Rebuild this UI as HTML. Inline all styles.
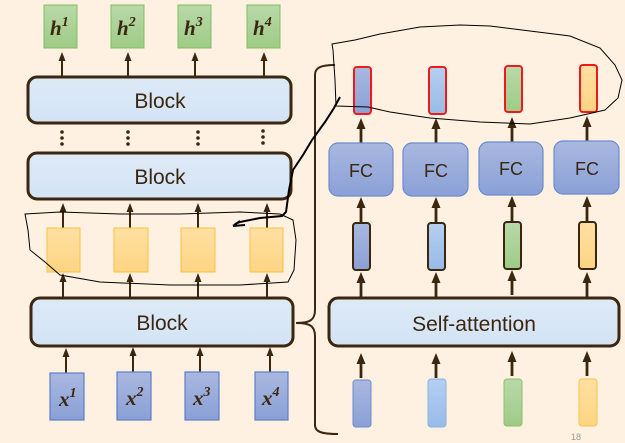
<!DOCTYPE html>
<html><head><meta charset="utf-8"><style>
html,body{margin:0;padding:0;background:#fef1e2;}
svg{display:block;}
text{font-family:"Liberation Sans",sans-serif;fill:#3b2610;}
.m{font-family:"Liberation Serif",serif;font-weight:bold;font-style:italic;}
</style></head><body>
<svg width="625" height="443" viewBox="0 0 625 443" xmlns="http://www.w3.org/2000/svg">
<defs>
<linearGradient id="blk" x1="0" y1="0" x2="0" y2="1"><stop offset="0" stop-color="#dde9f6"/><stop offset="1" stop-color="#d4e4f5"/></linearGradient>
<linearGradient id="grn" x1="0" y1="0" x2="0" y2="1"><stop offset="0" stop-color="#b9d9a9"/><stop offset="1" stop-color="#9ecb86"/></linearGradient>
<linearGradient id="yel" x1="0" y1="0" x2="0" y2="1"><stop offset="0" stop-color="#ffe0a3"/><stop offset="1" stop-color="#fdd482"/></linearGradient>
<linearGradient id="pur" x1="0" y1="0" x2="0" y2="1"><stop offset="0" stop-color="#a9b8e0"/><stop offset="1" stop-color="#8aa0d6"/></linearGradient>
<linearGradient id="lb" x1="0" y1="0" x2="0" y2="1"><stop offset="0" stop-color="#b5cff0"/><stop offset="1" stop-color="#97bbe8"/></linearGradient>
<g id="al"><path d="M0,0V-18" stroke="#3b2610" stroke-width="2"/><path d="M-3.5,-16 L0,-25 L3.5,-16 Z" fill="#3b2610"/></g>
<g id="ar"><path d="M0,0V-17" stroke="#3b2610" stroke-width="2.8"/><path d="M-4.5,-14 L0,-25 L4.5,-14 Z" fill="#3b2610"/></g>
</defs>
<!-- left arrows -->
<use href="#al" x="62" y="77"/><use href="#al" x="128" y="77"/><use href="#al" x="195" y="77"/><use href="#al" x="264" y="77"/>
<use href="#al" x="63" y="228"/><use href="#al" x="130" y="228"/><use href="#al" x="198" y="228"/><use href="#al" x="267" y="228"/>
<use href="#al" x="63" y="298"/><use href="#al" x="130" y="298"/><use href="#al" x="198" y="298"/><use href="#al" x="267" y="298"/>
<use href="#al" x="66" y="373"/><use href="#al" x="133" y="372"/><use href="#al" x="200" y="372"/><use href="#al" x="270" y="372"/>
<!-- right arrows -->
<use href="#ar" x="361" y="143"/><use href="#ar" x="436" y="143"/><use href="#ar" x="512" y="142"/><use href="#ar" x="587" y="141"/>
<use href="#ar" x="361" y="222"/><use href="#ar" x="436" y="222"/><use href="#ar" x="512" y="221"/><use href="#ar" x="587" y="221"/>
<use href="#ar" x="361" y="297"/><use href="#ar" x="436" y="297"/><use href="#ar" x="512" y="295"/><use href="#ar" x="587" y="297"/>
<use href="#ar" x="361" y="378"/><use href="#ar" x="436" y="378"/><use href="#ar" x="512" y="376"/><use href="#ar" x="587" y="376"/>
<!-- brace -->
<path d="M335,65 C320,65 315,68 315,75 V310 C315,320 310,323 296,323 C310,323 315,326 315,336 V425 C315,432 322,434 338,434" fill="none" stroke="#3b2610" stroke-width="2"/>
<!-- h boxes -->
<g fill="url(#grn)" stroke="#7fbf60" stroke-width="1">
<rect x="44" y="5" width="33" height="43"/><rect x="111" y="5" width="33" height="43"/><rect x="178" y="5" width="33" height="43"/><rect x="247" y="5" width="33" height="43"/>
</g>
<g font-size="21">
<text x="50" y="35" class="m">h<tspan font-size="14" dy="-9">1</tspan></text>
<text x="117" y="35" class="m">h<tspan font-size="14" dy="-9">2</tspan></text>
<text x="184" y="35" class="m">h<tspan font-size="14" dy="-9">3</tspan></text>
<text x="253" y="35" class="m">h<tspan font-size="14" dy="-9">4</tspan></text>
</g>
<!-- blocks -->
<g fill="url(#blk)" stroke="#3b2610" stroke-width="3">
<rect x="28" y="77" width="263" height="46" rx="9"/>
<rect x="28" y="153" width="263" height="46" rx="9"/>
<rect x="31" y="298" width="262" height="48" rx="9"/>
<rect x="329" y="298" width="290" height="48" rx="9"/>
</g>
<g font-size="21" text-anchor="middle">
<text x="160" y="108">Block</text><text x="160" y="184">Block</text><text x="162" y="330">Block</text>
<text x="474" y="331">Self-attention</text>
</g>
<!-- dots -->
<g fill="#3b2610">
<circle cx="62" cy="132" r="1.8"/><circle cx="62" cy="138" r="1.8"/><circle cx="62" cy="144" r="1.8"/>
<circle cx="128" cy="132" r="1.8"/><circle cx="128" cy="138" r="1.8"/><circle cx="128" cy="144" r="1.8"/>
<circle cx="198" cy="132" r="1.8"/><circle cx="198" cy="138" r="1.8"/><circle cx="198" cy="144" r="1.8"/>
<circle cx="263" cy="131" r="1.8"/><circle cx="263" cy="137" r="1.8"/><circle cx="263" cy="143" r="1.8"/>
</g>
<!-- yellow -->
<g fill="url(#yel)" stroke="#f7c343" stroke-width="1">
<rect x="47" y="228" width="33" height="44"/><rect x="114" y="228" width="34" height="44"/><rect x="181" y="228" width="34" height="44"/><rect x="250" y="228" width="33" height="44"/>
</g>
<!-- x boxes -->
<g fill="url(#pur)" stroke="#5b7fc8" stroke-width="1.2">
<rect x="50" y="373" width="34" height="47"/><rect x="117" y="372" width="34" height="48"/><rect x="185" y="372" width="34" height="48"/><rect x="255" y="372" width="33" height="48"/>
</g>
<g font-size="21">
<text x="59" y="406" class="m">x<tspan font-size="14" dy="-9">1</tspan></text>
<text x="126" y="405" class="m">x<tspan font-size="14" dy="-9">2</tspan></text>
<text x="193" y="405" class="m">x<tspan font-size="14" dy="-9">3</tspan></text>
<text x="262" y="405" class="m">x<tspan font-size="14" dy="-9">4</tspan></text>
</g>
<!-- FC -->
<g fill="url(#pur)" stroke="#6a8bd0" stroke-width="1.2">
<rect x="329" y="143" width="64" height="53" rx="9"/><rect x="403" y="143" width="65" height="53" rx="9"/><rect x="479" y="142" width="64" height="53" rx="9"/><rect x="554" y="141" width="65" height="53" rx="9"/>
</g>
<g font-size="18" text-anchor="middle">
<text x="361" y="177">FC</text><text x="436" y="177">FC</text><text x="511" y="175">FC</text><text x="587" y="175">FC</text>
</g>
<!-- red bars -->
<g stroke="#f01818" stroke-width="2">
<rect x="354" y="67" width="17" height="47" rx="3" fill="url(#pur)"/>
<rect x="429" y="67" width="17" height="47" rx="3" fill="url(#lb)"/>
<rect x="505" y="66" width="17" height="46" rx="3" fill="url(#grn)"/>
<rect x="580" y="65" width="17" height="47" rx="3" fill="url(#yel)"/>
</g>
<!-- mid bars -->
<g stroke="#3b2610" stroke-width="2">
<rect x="353" y="223" width="17" height="47" rx="3" fill="url(#pur)"/>
<rect x="428" y="223" width="17" height="47" rx="3" fill="url(#lb)"/>
<rect x="504" y="222" width="17" height="47" rx="3" fill="url(#grn)"/>
<rect x="579" y="222" width="17" height="47" rx="3" fill="url(#yel)"/>
</g>
<!-- bottom bars -->
<rect x="353" y="380" width="18" height="47" rx="3" fill="url(#pur)" stroke="#6a8bd0"/>
<rect x="428" y="379" width="18" height="48" rx="3" fill="url(#lb)" stroke="#8ab4e6"/>
<rect x="504" y="379" width="18" height="47" rx="3" fill="url(#grn)" stroke="#8cc070"/>
<rect x="579" y="379" width="18" height="47" rx="3" fill="url(#yel)" stroke="#f7c343"/>
<text x="571" y="440" font-size="9" style="fill:#999">18</text>
<!-- handwriting -->
<g fill="none" stroke="#000" stroke-width="1">
<path d="M25,214 L60,212 L120,214 L180,214 L240,212 L280,214 L293,220 L296,240 L294,270 L288,282 L240,285 L170,285 L100,282 L60,275 L45,262 L30,250 L28,230 Z"/>
<path d="M332,44 L355,40 L380,34 L420,27 L460,25 L490,26 L530,31 L570,36 L600,48 L615,65 L622,80 L618,98 L605,110 L570,118 L530,124 L480,122 L430,118 L390,112 L368,107 L336,106 L335,80 L333,50 Z"/>
</g>
<path d="M340,97 L334,108 L325,122 L312,140 L303,155 L293,170 L289,190 L286,212 L282,216 L260,218 L240,222 L235,224 M233,226 L240,221 M233,226 L245,225" fill="none" stroke="#000" stroke-width="2"/>
</svg>
</body></html>
